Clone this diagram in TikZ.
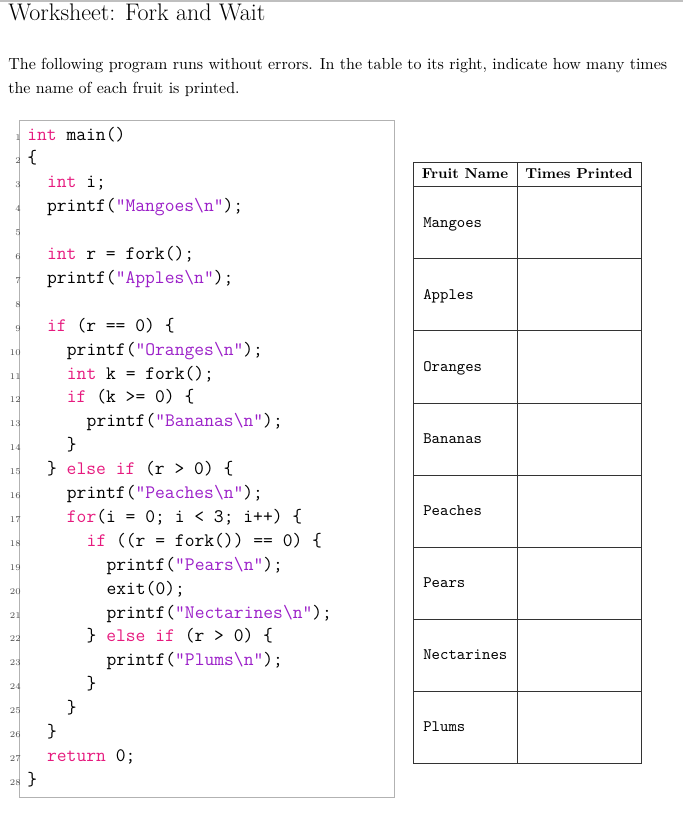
\documentclass[tikz,border=0pt]{standalone}
\usepackage{fontspec}
\usepackage{xcolor}
\definecolor{kwc}{HTML}{E6197E}
\definecolor{strc}{HTML}{9B1FC8}
\newcommand\kw[1]{\textcolor{kwc}{#1}}
\newcommand\st[1]{\textcolor{strc}{#1}}
\newcommand\SP{\ }
\newcommand\bs{\textbackslash}
\tikzset{
  codeln/.style={anchor=base west,inner sep=0pt,font=\ttfamily\fontsize{11.9}{14}\selectfont},
  lnum/.style={anchor=base east,inner sep=0pt,font=\fontsize{5.5}{6}\selectfont,text=black!70},
  cell/.style={draw=black!80,line width=0.5pt},
  fruit/.style={anchor=base west,inner sep=0pt,font=\ttfamily},
  hdr/.style={anchor=base,inner sep=0pt,font=\small\bfseries}
}
\begin{document}
\begin{tikzpicture}[x=0.625pt,y=-0.625pt]
\useasboundingbox (0,0) rectangle (683,839);
\draw[gray!50,line width=1pt] (0,1) -- (683,1);
\node[anchor=base west,inner sep=0pt,font=\fontsize{15}{18}\selectfont] (title) at (8,20) {Worksheet: Fork and Wait};
\node[anchor=base west,inner sep=0pt] (p1) at (8,69) {The following program runs without errors. In the table to its right, indicate how many times};
\node[anchor=base west,inner sep=0pt] (p2) at (8,93) {the name of each fruit is printed.};
\draw[gray!60,line width=0.6pt] (19,120) rectangle (394,797);
\foreach \n in {1,...,28}{\node[lnum] (ln\n) at (21,{140+(\n-1)*23.9}) {\n};}
\def\L#1#2#3{\node[codeln] (c#1) at ({27+9.9*#2},{140+(#1-1)*23.9}) {#3};}
\L{1}{0}{\kw{int}\SP main()}
\L{2}{0}{\{}
\L{3}{2}{\kw{int}\SP i;}
\L{4}{2}{printf(\st{"Mangoes\bs n"});}
\L{6}{2}{\kw{int}\SP r\SP =\SP fork();}
\L{7}{2}{printf(\st{"Apples\bs n"});}
\L{9}{2}{\kw{if}\SP (r\SP ==\SP 0)\SP \{}
\L{10}{4}{printf(\st{"Oranges\bs n"});}
\L{11}{4}{\kw{int}\SP k\SP =\SP fork();}
\L{12}{4}{\kw{if}\SP (k\SP >=\SP 0)\SP \{}
\L{13}{6}{printf(\st{"Bananas\bs n"});}
\L{14}{4}{\}}
\L{15}{2}{\}\SP \kw{else}\SP \kw{if}\SP (r\SP >\SP 0)\SP \{}
\L{16}{4}{printf(\st{"Peaches\bs n"});}
\L{17}{4}{\kw{for}(i\SP =\SP 0;\SP i\SP <\SP 3;\SP i++)\SP \{}
\L{18}{6}{\kw{if}\SP ((r\SP =\SP fork())\SP ==\SP 0)\SP \{}
\L{19}{8}{printf(\st{"Pears\bs n"});}
\L{20}{8}{exit(0);}
\L{21}{8}{printf(\st{"Nectarines\bs n"});}
\L{22}{6}{\}\SP \kw{else}\SP \kw{if}\SP (r\SP >\SP 0)\SP \{}
\L{23}{8}{printf(\st{"Plums\bs n"});}
\L{24}{6}{\}}
\L{25}{4}{\}}
\L{26}{2}{\}}
\L{27}{2}{\kw{return}\SP 0;}
\L{28}{0}{\}}
% table
\draw[cell] (413,162) rectangle (641,763);
\draw[cell] (517,162) -- (517,763);
\draw[cell] (413,186) -- (641,186);
\foreach \y in {258,330,403,475,547,619,691}{\draw[cell] (413,\y) -- (641,\y);}
\node[hdr] (h1) at (465,178) {Fruit Name};
\node[hdr] (h2) at (579,178) {Times Printed};
\foreach \f [count=\i] in {Mangoes,Apples,Oranges,Bananas,Peaches,Pears,Nectarines,Plums}{
  \node[fruit] (f\i) at (423,{227+(\i-1)*72.1}) {\f};}
\end{tikzpicture}
\end{document}
